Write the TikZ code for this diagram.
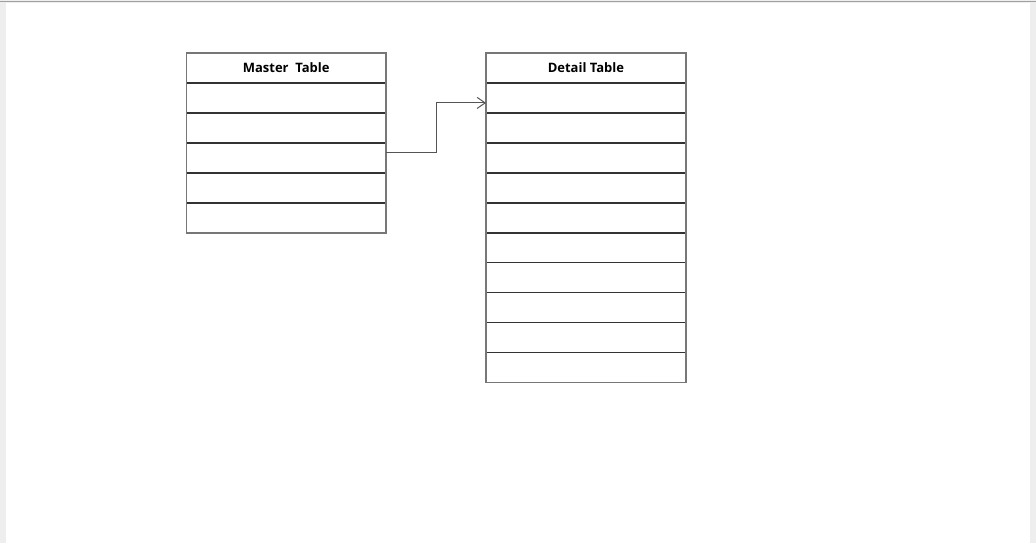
\documentclass[tikz,border=0pt]{standalone}
\usepackage{fontspec}
\setmainfont{Open Sans}
\usetikzlibrary{positioning,arrows.meta}
\definecolor{pagegray}{HTML}{EEEEEE}
\definecolor{rowline}{HTML}{333333}
\definecolor{boxline}{HTML}{777777}
\definecolor{linkline}{HTML}{555555}

\begin{document}
\begin{tikzpicture}[x=1pt, y=-1pt,
  cell/.style={draw=rowline, line width=1.5pt, minimum width=200pt, minimum height=30pt,
               inner sep=0pt, outer sep=0pt, font=\bfseries\fontsize{13}{15}\selectfont},
  outline/.style={draw=boxline, line width=1.5pt}]
  % page
  \fill[pagegray] (0,0) rectangle (1036,544);
  \fill[white] (6,3) rectangle (1030,544);
  \draw[boxline!70, line width=1pt] (0,1.5) -- (1036,1.5);
  \useasboundingbox (0,0) rectangle (1036,544);

  % master table
  \node[cell] (m0) at (286,68) {Master\ \ Table};
  \foreach \i in {1,...,5}{
    \pgfmathtruncatemacro\j{\i-1}
    \node[cell, below=0pt of m\j] (m\i) {};
  }
  \draw[outline] (m0.north west) rectangle (m5.south east);

  % detail table
  \node[cell] (d0) at (586,68) {Detail Table};
  \foreach \i in {1,...,10}{
    \pgfmathtruncatemacro\j{\i-1}
    \node[cell, below=0pt of d\j] (d\i) {};
  }
  \draw[outline] (d0.north west) rectangle (d10.south east);

  \draw[linkline, line width=1pt, -{Straight Barb[length=8pt,width=11pt]}]
    ([yshift=5pt]m3.east) -- ++(50,0) |- ([yshift=-5pt]d1.west);
\end{tikzpicture}
\end{document}
